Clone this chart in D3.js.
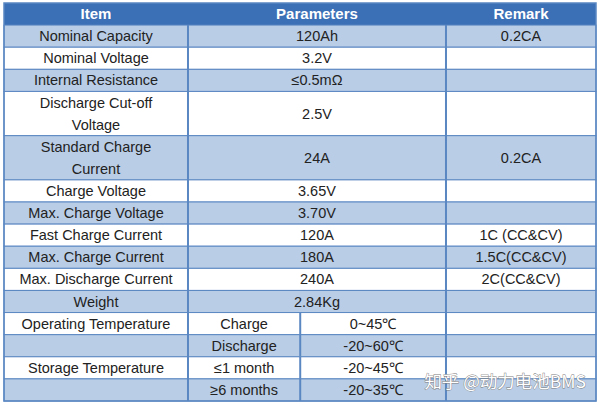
<!DOCTYPE html>
<html><head><meta charset="utf-8">
<script src="https://cdn.jsdelivr.net/npm/d3@7"></script>
<style>body{margin:0;background:#fff}</style></head>
<body><svg id="c" width="600" height="406"></svg>
<script>
const headers = ["Item","Parameters","Remark"];
const items = ["Nominal Capacity","Nominal Voltage","Internal Resistance","Discharge Cut-off|Voltage","Standard Charge|Current","Charge Voltage","Max. Charge Voltage","Fast Charge Current","Max. Charge Current","Max. Discharge Current","Weight","Operating Temperature","","Storage Temperature",""];
const subItems = ["","","","","","","","","","","","Charge","Discharge","≤1 month","≥6 months"];
const params = ["120Ah","3.2V","≤0.5mΩ","2.5V","24A","3.65V","3.70V","120A","180A","240A","2.84Kg","0~45℃","-20~60℃","-20~45℃","-20~35℃"];
const remarks = ["0.2CA","","","","0.2CA","","","1C (CC&CV)","1.5C(CC&CV)","2C(CC&CV)","","","","",""];
const rowUnits = [1,1,1,2,2,1,1,1,1,1,1,1,1,1,1];

const svg = d3.select("#c");
const x = d3.scaleLinear().domain([0,1]).range([4,596]);
const cols = [0, 0.3108, 0.7466, 1];
const cum = [1]; rowUnits.forEach(u=>cum.push(cum[cum.length-1]+u));
const y = d3.scaleLinear().domain([0,18]).range([3,401]);
const font = "'Liberation Sans', Arial, sans-serif";
const line = "#5a87c2";

svg.append("rect").attr("x",x(0)).attr("y",y(0)).attr("width",x(1)-x(0)).attr("height",y(1)-y(0)).attr("fill","#3b6fb6");
headers.forEach((h,i)=>{
  svg.append("text").attr("x",(x(cols[i])+x(cols[i+1]))/2).attr("y",(y(0)+y(1))/2).attr("dy","0.35em")
    .attr("text-anchor","middle").attr("fill","#fff").attr("font-weight","bold").attr("font-family",font).attr("font-size",15).text(h);
});

const rows = svg.selectAll("g.row").data(items.map((d,i)=>({i,item:d,sub:subItems[i],p:params[i],r:remarks[i]}))).join("g");
rows.append("rect").attr("x",x(0)).attr("y",d=>y(cum[d.i])).attr("width",x(1)-x(0)).attr("height",d=>y(cum[d.i+1])-y(cum[d.i]))
  .attr("fill",d=>d.i%2===0?"#b9cde6":"#ffffff").attr("stroke",line).attr("stroke-width",1);

function txt(g, cx, lines, d){
  const mid=(y(cum[d.i])+y(cum[d.i+1]))/2, lh=22;
  lines.forEach((l,k)=>{
    g.append("text").attr("x",cx).attr("y",mid+(k-(lines.length-1)/2)*lh).attr("dy","0.35em")
     .attr("text-anchor","middle").attr("fill","#222").attr("font-family",font).attr("font-size",14.5).text(l);
  });
}
const pL=x(cols[1]), pR=x(cols[2]), pS=pL+(pR-pL)*0.435;
rows.each(function(d){
  const g=d3.select(this);
  if(d.item) txt(g,(x(cols[0])+x(cols[1]))/2,d.item.split("|"),d);
  if(d.sub){ txt(g,(pL+pS)/2,[d.sub],d); txt(g,(pS+pR)/2,[d.p],d);
    g.append("line").attr("x1",pS).attr("x2",pS).attr("y1",y(cum[d.i])).attr("y2",y(cum[d.i+1])).attr("stroke",line).attr("stroke-width",2);
  } else txt(g,(pL+pR)/2,[d.p],d);
  if(d.r) txt(g,(x(cols[2])+x(cols[3]))/2,[d.r],d);
});
[cols[1],cols[2]].forEach(c=>svg.append("line").attr("x1",x(c)).attr("x2",x(c)).attr("y1",y(1)).attr("y2",y(18)).attr("stroke",line).attr("stroke-width",2));
svg.append("rect").attr("x",x(0)).attr("y",y(0)).attr("width",x(1)-x(0)).attr("height",y(18)-y(0)).attr("fill","none").attr("stroke",line).attr("stroke-width",1.5);
svg.append("text").attr("x",586).attr("y",388).attr("text-anchor","end").attr("font-family","'Noto Sans CJK SC',sans-serif").attr("font-size",17.5)
  .attr("fill","#fff").attr("stroke","#7a7a7a").attr("stroke-width",0.8).attr("paint-order","stroke").text("知乎 @动力电池BMS");
</script></body></html>
